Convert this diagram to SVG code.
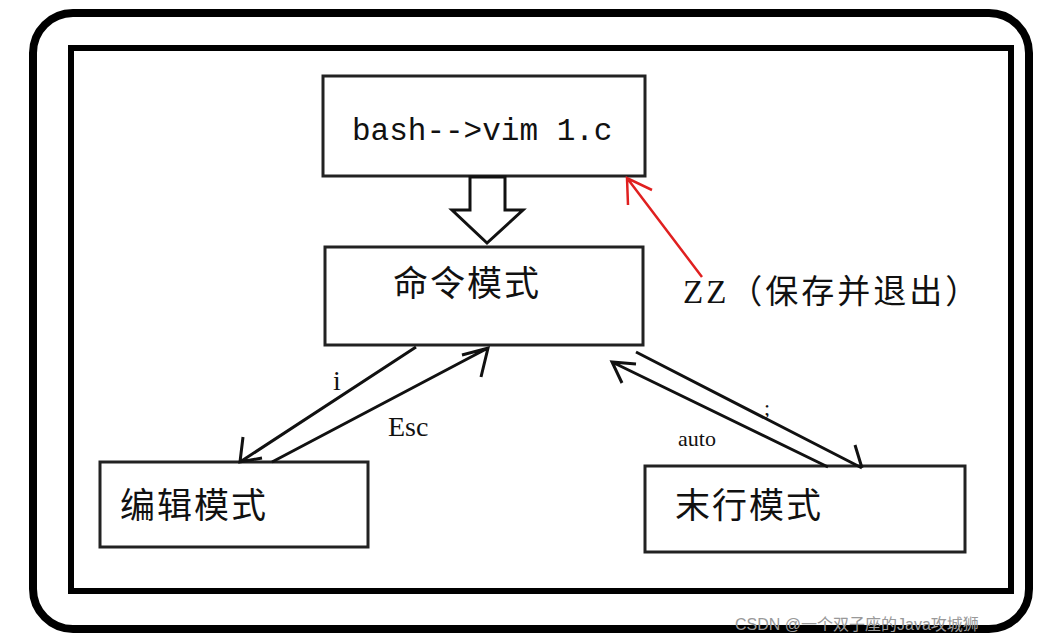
<svg xmlns="http://www.w3.org/2000/svg" width="1040" height="642" viewBox="0 0 1040 642">
<style>
.box{fill:#fff;stroke:#222;stroke-width:3}
.ln{stroke:#111;stroke-width:3;fill:none}
.t{font-family:"Liberation Serif","Noto Sans CJK SC",serif;fill:#111}
</style>
<rect width="1040" height="642" fill="#fff"/>
<rect x="33" y="13" width="996" height="616" rx="40" fill="none" stroke="#000" stroke-width="8"/>
<rect x="71" y="48" width="940" height="543" fill="#fff" stroke="#000" stroke-width="6"/>
<g id="n1"><rect class="box" x="323" y="76" width="322" height="100"/><text x="352" y="140" style="font-family:'Liberation Mono',monospace" fill="#111" font-size="31">bash--&gt;vim 1.c</text></g>
<g id="n2"><rect class="box" x="325" y="247" width="318" height="98"/><text class="t" x="393" y="296" font-size="35" letter-spacing="2">命令模式</text></g>
<g id="n3"><rect class="box" x="100" y="462" width="268" height="85"/><text class="t" x="120" y="518" font-size="35" letter-spacing="2">编辑模式</text></g>
<g id="n4"><rect class="box" x="645" y="466" width="320" height="86"/><text class="t" x="675" y="518" font-size="35" letter-spacing="2">末行模式</text></g>
<g id="connectors">
<path d="M470 177V210H452L487 243L523 210H505V177Z" fill="#fff" stroke="#111" stroke-width="3"/>
<path class="ln" d="M416 347L240 462M243 437L240 462L262 458"/>
<path class="ln" d="M272 462L488 348M481 377L488 348L462 355"/>
<path class="ln" d="M636 352L862 468M855 445L862 468"/>
<path class="ln" d="M828 467L612 362M622 383L612 362L636 364"/>
<path d="M702 277L627 178M628 205L627 178L652 190" fill="none" stroke="#e02020" stroke-width="2.5"/>
<text class="t" x="333" y="390" font-size="28">i</text>
<text class="t" x="388" y="436" font-size="28">Esc</text>
<text class="t" x="678" y="446" font-size="22">auto</text>
<text class="t" x="764" y="415" font-size="22">;</text>
<text class="t" x="683" y="303" font-size="33" letter-spacing="3">ZZ（保存并退出）</text>
</g>
<text x="735" y="630" font-family="Liberation Sans,'Noto Sans CJK SC',sans-serif" font-size="16" fill="#999">CSDN @一个双子座的Java攻城狮</text>
</svg>
